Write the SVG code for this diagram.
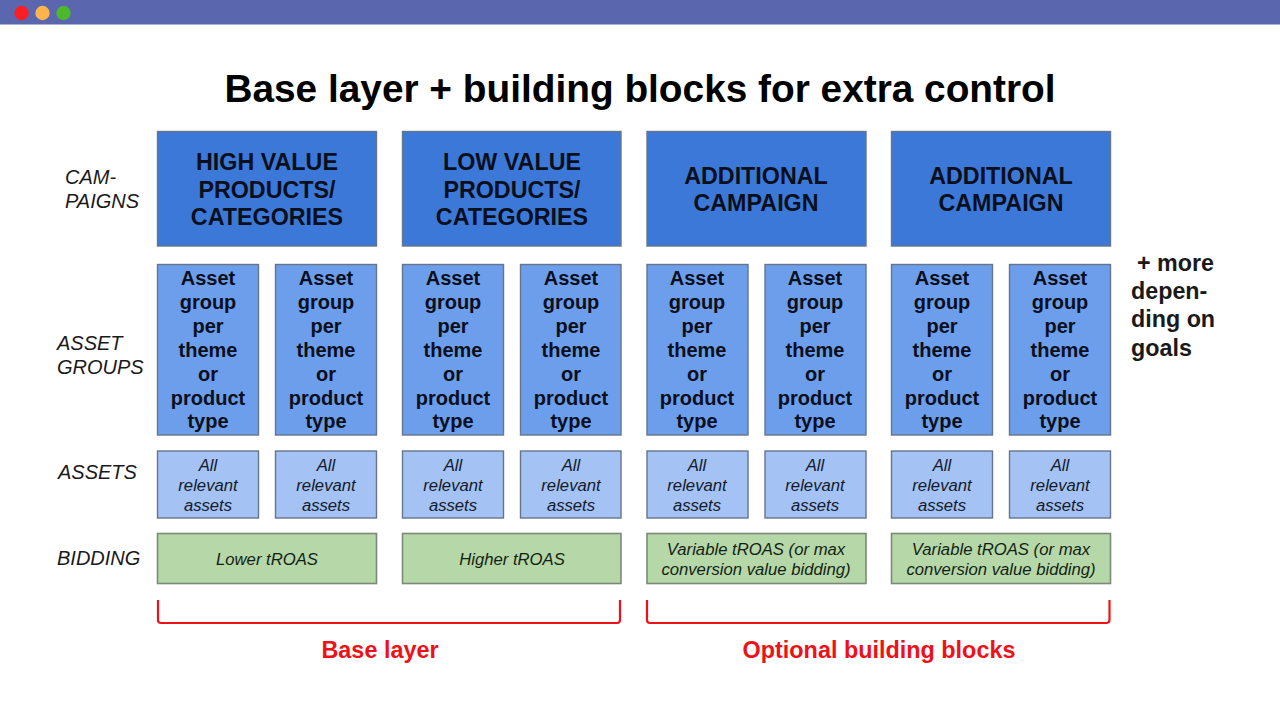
<svg xmlns="http://www.w3.org/2000/svg" width="1280" height="720" viewBox="0 0 1280 720">
<style>
text{font-family:"Liberation Sans",Arial,sans-serif;text-anchor:middle}
.c rect{fill:#3c78d8;stroke:#66758a;stroke-width:1.4}
.g rect{fill:#6d9eeb;stroke:#66758a;stroke-width:1.4}
.a rect{fill:#a4c2f4;stroke:#66758a;stroke-width:1.4}
.b rect{fill:#b6d7a8;stroke:#7c8a78;stroke-width:1.6}
.c text{font-size:23.300px;font-weight:700;fill:#0a0f1c}
.g text{font-size:20px;font-weight:700;fill:#0a0f1c}
.a text{font-size:16.700px;font-style:italic;fill:#131a2a}
.b text{font-size:16.700px;font-style:italic;fill:#131f14}
.l{font-size:20px;font-style:italic;fill:#1a1a1a;text-anchor:start}
.r{font-size:23.300px;font-weight:700;fill:#1a1a1a;text-anchor:start}
.t{font-size:38.800px;font-weight:700;fill:#000}
.red{font-size:23.400px;font-weight:700;fill:#ee1118}
.br{fill:none;stroke:#ee1118;stroke-width:2.200}
</style>
<rect width="1280" height="720" fill="#fff"/>
<g id="titlebar"><rect width="1280" height="24.500" fill="#5a66ad"/><circle cx="21.500" cy="13" r="7.200" fill="#fb1f24"/><circle cx="42.500" cy="13" r="7.200" fill="#fdb44d"/><circle cx="63.500" cy="13" r="7.200" fill="#4cb82c"/></g>
<text class="t" x="640" y="102">Base layer + building blocks for extra control</text>
<text class="l" x="65" y="184">CAM-</text><text class="l" x="65" y="208">PAIGNS</text>
<text class="l" x="57" y="350">ASSET</text><text class="l" x="57" y="374">GROUPS</text>
<text class="l" x="58" y="479">ASSETS</text><text class="l" x="57" y="565">BIDDING</text>
<text class="r" x="1137" y="271">+ more</text><text class="r" x="1131" y="299">depen-</text><text class="r" x="1131" y="327">ding on</text><text class="r" x="1131" y="356">goals</text>
<g id="campaign1" class="c"><rect x="157.500" y="131.500" width="219" height="114.500"/><text x="267" y="170">HIGH VALUE</text><text x="267" y="197.500">PRODUCTS/</text><text x="267" y="225">CATEGORIES</text></g>
<g id="campaign2" class="c"><rect x="402.500" y="131.500" width="218.500" height="114.500"/><text x="512" y="170">LOW VALUE</text><text x="512" y="197.500">PRODUCTS/</text><text x="512" y="225">CATEGORIES</text></g>
<g id="campaign3" class="c"><rect x="647" y="131.500" width="219" height="114.500"/><text x="756" y="184">ADDITIONAL</text><text x="756" y="211">CAMPAIGN</text></g>
<g id="campaign4" class="c"><rect x="891.500" y="131.500" width="219" height="114.500"/><text x="1001" y="184">ADDITIONAL</text><text x="1001" y="211">CAMPAIGN</text></g>
<g id="group1" class="g"><rect x="157.500" y="264.500" width="101" height="170.500"/><text x="208" y="285">Asset</text><text x="208" y="309">group</text><text x="208" y="333">per</text><text x="208" y="356.500">theme</text><text x="208" y="380.500">or</text><text x="208" y="404.500">product</text><text x="208" y="428">type</text></g>
<g id="group2" class="g"><rect x="275.500" y="264.500" width="101" height="170.500"/><text x="326" y="285">Asset</text><text x="326" y="309">group</text><text x="326" y="333">per</text><text x="326" y="356.500">theme</text><text x="326" y="380.500">or</text><text x="326" y="404.500">product</text><text x="326" y="428">type</text></g>
<g id="group3" class="g"><rect x="402.500" y="264.500" width="101" height="170.500"/><text x="453" y="285">Asset</text><text x="453" y="309">group</text><text x="453" y="333">per</text><text x="453" y="356.500">theme</text><text x="453" y="380.500">or</text><text x="453" y="404.500">product</text><text x="453" y="428">type</text></g>
<g id="group4" class="g"><rect x="520.500" y="264.500" width="100.500" height="170.500"/><text x="571" y="285">Asset</text><text x="571" y="309">group</text><text x="571" y="333">per</text><text x="571" y="356.500">theme</text><text x="571" y="380.500">or</text><text x="571" y="404.500">product</text><text x="571" y="428">type</text></g>
<g id="group5" class="g"><rect x="647" y="264.500" width="101" height="170.500"/><text x="697" y="285">Asset</text><text x="697" y="309">group</text><text x="697" y="333">per</text><text x="697" y="356.500">theme</text><text x="697" y="380.500">or</text><text x="697" y="404.500">product</text><text x="697" y="428">type</text></g>
<g id="group6" class="g"><rect x="765" y="264.500" width="101" height="170.500"/><text x="815" y="285">Asset</text><text x="815" y="309">group</text><text x="815" y="333">per</text><text x="815" y="356.500">theme</text><text x="815" y="380.500">or</text><text x="815" y="404.500">product</text><text x="815" y="428">type</text></g>
<g id="group7" class="g"><rect x="891.500" y="264.500" width="101" height="170.500"/><text x="942" y="285">Asset</text><text x="942" y="309">group</text><text x="942" y="333">per</text><text x="942" y="356.500">theme</text><text x="942" y="380.500">or</text><text x="942" y="404.500">product</text><text x="942" y="428">type</text></g>
<g id="group8" class="g"><rect x="1009.500" y="264.500" width="101" height="170.500"/><text x="1060" y="285">Asset</text><text x="1060" y="309">group</text><text x="1060" y="333">per</text><text x="1060" y="356.500">theme</text><text x="1060" y="380.500">or</text><text x="1060" y="404.500">product</text><text x="1060" y="428">type</text></g>
<g id="assets1" class="a"><rect x="157.500" y="451" width="101" height="67"/><text x="208" y="471">All</text><text x="208" y="490.500">relevant</text><text x="208" y="510.500">assets</text></g>
<g id="assets2" class="a"><rect x="275.500" y="451" width="101" height="67"/><text x="326" y="471">All</text><text x="326" y="490.500">relevant</text><text x="326" y="510.500">assets</text></g>
<g id="assets3" class="a"><rect x="402.500" y="451" width="101" height="67"/><text x="453" y="471">All</text><text x="453" y="490.500">relevant</text><text x="453" y="510.500">assets</text></g>
<g id="assets4" class="a"><rect x="520.500" y="451" width="100.500" height="67"/><text x="571" y="471">All</text><text x="571" y="490.500">relevant</text><text x="571" y="510.500">assets</text></g>
<g id="assets5" class="a"><rect x="647" y="451" width="101" height="67"/><text x="697" y="471">All</text><text x="697" y="490.500">relevant</text><text x="697" y="510.500">assets</text></g>
<g id="assets6" class="a"><rect x="765" y="451" width="101" height="67"/><text x="815" y="471">All</text><text x="815" y="490.500">relevant</text><text x="815" y="510.500">assets</text></g>
<g id="assets7" class="a"><rect x="891.500" y="451" width="101" height="67"/><text x="942" y="471">All</text><text x="942" y="490.500">relevant</text><text x="942" y="510.500">assets</text></g>
<g id="assets8" class="a"><rect x="1009.500" y="451" width="101" height="67"/><text x="1060" y="471">All</text><text x="1060" y="490.500">relevant</text><text x="1060" y="510.500">assets</text></g>
<g id="bidding1" class="b"><rect x="157.500" y="533.500" width="219" height="50"/><text x="267" y="565">Lower tROAS</text></g>
<g id="bidding2" class="b"><rect x="402.500" y="533.500" width="218.500" height="50"/><text x="512" y="565">Higher tROAS</text></g>
<g id="bidding3" class="b"><rect x="647" y="533.500" width="219" height="50"/><text x="756" y="554.500">Variable tROAS (or max</text><text x="756" y="574.500">conversion value bidding)</text></g>
<g id="bidding4" class="b"><rect x="891.500" y="533.500" width="219" height="50"/><text x="1001" y="554.500">Variable tROAS (or max</text><text x="1001" y="574.500">conversion value bidding)</text></g>
<g id="connectors"><path class="br" d="M158 600V620Q158 623 161 623H617Q620 623 620 620V600"/><path class="br" d="M647 600V620Q647 623 650 623H1106Q1109.500 623 1109.500 620V600"/></g>
<text class="red" x="380" y="657.500">Base layer</text>
<text class="red" x="879" y="657.500">Optional building blocks</text>
</svg>
